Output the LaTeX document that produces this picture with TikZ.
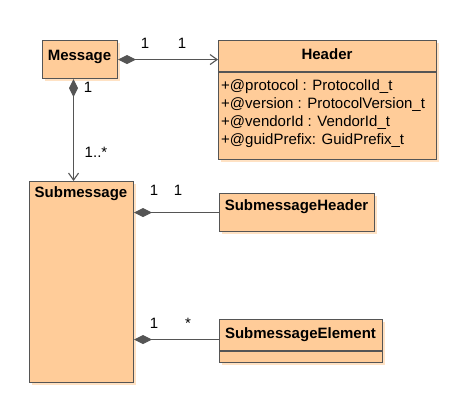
\documentclass[tikz,border=0pt]{standalone}
\usepackage{fontspec}
\setmainfont{Liberation Sans}
\usetikzlibrary{arrows.meta,shadows}
\definecolor{umlfill}{HTML}{FFCC99}
\definecolor{umlline}{HTML}{555555}
\definecolor{umlshade}{HTML}{FFE2C4}
\newcommand\umlsize{\fontsize{15pt}{18pt}\selectfont}
\tikzset{
  umlbox/.style={draw=umlline, fill=umlfill, line width=1.1pt, inner sep=0pt, anchor=north west,
    drop shadow={shadow xshift=2pt, shadow yshift=-2pt, fill=umlshade, opacity=1}},
  umlname/.style={font=\umlsize\bfseries, inner sep=0pt, anchor=base},
  umlattr/.style={font=\umlsize, align=left, inner sep=0pt, anchor=north west},
  umlsep/.style={draw=umlline, line width=1.1pt},
  mult/.style={font=\umlsize, inner sep=0pt, anchor=base},
  owns/.style={draw=umlline, line width=1.1pt, {Diamond[length=18pt,width=9pt]}-},
  navig/.style={draw=umlline, line width=1.1pt, {Diamond[length=18pt,width=9pt]}-{Straight Barb[length=7pt,width=10pt]}}
}
\begin{document}
\begin{tikzpicture}[x=1pt,y=-1pt]
\useasboundingbox (0,0) rectangle (457,402);
% classes
\node[umlbox, minimum width=75pt, minimum height=38pt] (msg) at (42,40) {};
\node[umlname] (msgname) at (79.5,60) {Message};
\node[umlbox, minimum width=218pt, minimum height=119pt] (hdr) at (218,40) {};
\node[umlname] (hdrname) at (327,59) {Header};
\draw[umlsep] ([yshift=-32pt]hdr.north west) -- ([yshift=-32pt]hdr.north east);
\node[umlattr] (hdrattr) at (221,79) {+@protocol : ProtocolId\_t\\+@version : ProtocolVersion\_t\\+@vendorId : VendorId\_t\\+@guidPrefix: GuidPrefix\_t};
\node[umlbox, minimum width=104pt, minimum height=201pt] (sub) at (29,181) {};
\node[umlname] (subname) at (81,197) {Submessage};
\node[umlbox, minimum width=155pt, minimum height=38pt] (sh) at (219,193) {};
\node[umlname] (shname) at (296.5,210) {SubmessageHeader};
\node[umlbox, minimum width=163pt, minimum height=43pt] (se) at (219,319) {};
\node[umlname] (sename) at (300.5,338) {SubmessageElement};
\draw[umlsep] ([yshift=-32pt]se.north west) -- ([yshift=-32pt]se.north east);
% associations
\coordinate (msgfoot) at ([xshift=-6.5pt]msg.south);
\coordinate (sejoin) at ([yshift=1.5pt]se.west);
\draw[navig] (msg.east) -- (msg.east -| hdr.west);
\draw[navig] (msgfoot) -- (msgfoot |- sub.north);
\draw[owns] (sh.west -| sub.east) -- (sh.west);
\draw[owns] (sejoin -| sub.east) -- (sejoin);
% multiplicities
\node[mult] (m1) at (145,48) {1};
\node[mult] (m2) at (182,48) {1};
\node[mult] (m3) at (88,92) {1};
\node[mult] (m4) at (96,157) {1..*};
\node[mult] (m5) at (154,195) {1};
\node[mult] (m6) at (178,195) {1};
\node[mult] (m7) at (154,328) {1};
\node[mult] (m8) at (188,328) {*};
\end{tikzpicture}
\end{document}
